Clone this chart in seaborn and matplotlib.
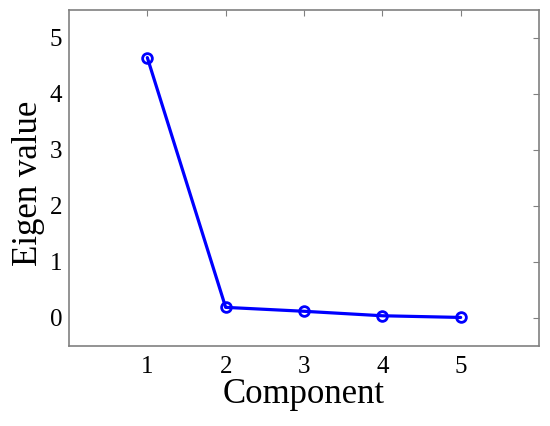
import numpy as np
import pandas as pd
import matplotlib
matplotlib.use("Agg")
import matplotlib.pyplot as plt
import seaborn as sns

components = [1, 2, 3, 4, 5]
eigen_values = [4.65, 0.19, 0.12, 0.04, 0.01]

sns.set_style("white")
plt.rcParams['font.family'] = ['Liberation Serif', 'DejaVu Serif']
plt.rcParams['text.color'] = 'black'
plt.rcParams['axes.labelcolor'] = 'black'
plt.rcParams['xtick.labelcolor'] = 'black'
plt.rcParams['ytick.labelcolor'] = 'black'

df = pd.DataFrame({"Component": components, "Eigen value": eigen_values})

fig = plt.figure(figsize=(5.5, 4.26), dpi=100)
ax = fig.add_axes([69 / 550, 1 - 346 / 426, 470 / 550, 336 / 426])

sns.lineplot(data=df, x="Component", y="Eigen value", ax=ax,
             color="#0000ff", linewidth=2.3, marker="o", markersize=7,
             markerfacecolor="none", markeredgecolor="#0000ff", markeredgewidth=2)

ax.set_xlim(0, 6)
ax.set_ylim(-0.5, 5.5)
ax.set_xticks(components)
ax.set_yticks([0, 1, 2, 3, 4, 5])
ax.tick_params(direction="in", length=4, width=0.8, color="#808080",
               labelsize=18, top=True, right=True)
ax.tick_params(axis="x", pad=7)
ax.tick_params(axis="y", pad=5)
for s in ax.spines.values():
    s.set_color("#808080")
    s.set_linewidth(1.2)
ax.set_xlabel("Component", fontsize=25, labelpad=0)
ax.set_ylabel("Eigen value", fontsize=25, labelpad=3, y=0.485)

fig.savefig("out.png", dpi=100)
